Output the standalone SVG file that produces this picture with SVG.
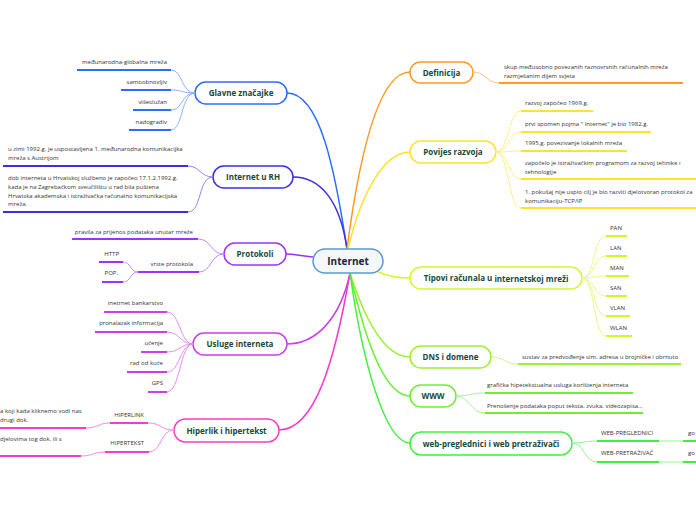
<svg xmlns="http://www.w3.org/2000/svg" width="696" height="520" viewBox="0 0 696 520">
<style>
.bg{fill:#fff}
.n rect{fill:#fff;stroke-width:1.5}
.nt{font-family:"Open Sans",sans-serif;font-weight:bold;font-size:8px;fill:#17493a;text-anchor:middle}
.lt{font-family:"Open Sans",sans-serif;font-size:6px;fill:#333}
.r{text-anchor:end}
.ul{stroke-width:2;fill:none}
.c{fill:none;stroke-width:1.5}
.lc{fill:none;stroke-width:1}
</style>
<rect class="bg" x="0" y="0" width="696" height="520"/>
<g id="connectors">
<path class="c" stroke="#2d6bff" d="M347,249 C335,170 320,93 287,93"/>
<path class="c" stroke="#3a2ee6" d="M347,249 C340,200 320,177 293,177"/>
<path class="c" stroke="#9a33ff" d="M313,257 C300,256 295,254 286,254"/>
<path class="c" stroke="#cc3cf0" d="M350,273 C340,320 315,344 287,344"/>
<path class="c" stroke="#f53cc8" d="M350,273 C335,360 315,430 279,430"/>
<path class="c" stroke="#ff9a22" d="M347,249 C360,150 380,72 410,72"/>
<path class="c" stroke="#ffe22e" d="M348,249 C362,190 385,152 410,152"/>
<path class="c" stroke="#d8f52c" d="M378,272 C390,277 400,278 410,278"/>
<path class="c" stroke="#9ef032" d="M350,273 C365,320 385,357 410,357"/>
<path class="c" stroke="#6eee32" d="M350,273 C365,340 385,396 410,396"/>
<path class="c" stroke="#3ef03e" d="M350,273 C362,360 385,443 410,443"/>
</g>
<g id="internet" class="n">
<rect x="313" y="249" width="70" height="24" rx="12" style="fill:#f4f8fb;stroke:#5a9ad0"/>
<text x="348" y="265" class="nt" style="font-size:10px;fill:#1a2440">Internet</text>
</g>
<g id="glavne" class="n">
<rect x="195" y="82" width="92" height="22" rx="11" stroke="#2d6bff"/>
<text x="241" y="96" class="nt">Glavne značajke</text>
<path class="lc" stroke="#8fb0ff" d="M171,70 C183,70 181,93 195,93 M171,90 C183,90 181,93 195,93 M171,110 C183,110 181,93 195,93 M171,130 C183,130 181,93 195,93"/>
<path class="ul" stroke="#2d6bff" d="M77,70 H171 M121,90 H171 M133,110 H171 M129,130 H171"/>
<text class="lt r" x="167" y="64">međunarodna-globalna mreža</text>
<text class="lt r" x="167" y="84">samoobnovljiv</text>
<text class="lt r" x="167" y="104">višeslužan</text>
<text class="lt r" x="167" y="124">nadogradiv</text>
</g>
<g id="rh" class="n">
<rect x="213" y="166" width="80" height="22" rx="11" stroke="#3a2ee6"/>
<text x="253" y="180" class="nt">Internet u RH</text>
<path class="lc" stroke="#8d86f0" d="M188,166 C200,166 200,177 213,177 M188,212 C202,212 198,177 213,177"/>
<path class="ul" stroke="#3a2ee6" d="M3,166 H188 M3,212 H188"/>
<text class="lt" x="8" y="151">u zimi 1992.g. je uspostavljena 1. međunarodna komunikacijka</text>
<text class="lt" x="8" y="160">mreža s Austrijom</text>
<text class="lt" x="8" y="180">dob interneta u Hrvatskoj službeno je započeo 17.1.2.1992.g.</text>
<text class="lt" x="8" y="189">kada je na Zagrebačkom sveučilištu u rad bila puštena</text>
<text class="lt" x="8" y="198">Hrvatska akademska i istraživačka računalno komunikacijska</text>
<text class="lt" x="8" y="206">mreža.</text>
</g>
<g id="protokoli" class="n">
<rect x="224" y="243" width="62" height="22" rx="11" stroke="#9a33ff"/>
<text x="255" y="257" class="nt">Protokoli</text>
<path class="lc" stroke="#c28cff" d="M198,239 C212,239 210,254 224,254 M199,272 C212,272 210,254 224,254 M123,262 C131,262 130,272 138,272 M123,282 C131,282 130,272 138,272"/>
<path class="ul" stroke="#9a33ff" d="M72,239 H198 M138,272 H199 M99,262 H123 M102,282 H123"/>
<text class="lt r" x="193" y="234">pravila za prijenos podataka unutar mreže</text>
<text class="lt r" x="193" y="266">vrste protokola</text>
<text class="lt r" x="119" y="256">HTTP</text>
<text class="lt r" x="118" y="275">POP,</text>
</g>
<g id="usluge" class="n">
<rect x="193" y="333" width="94" height="22" rx="11" stroke="#cc3cf0"/>
<text x="240" y="347" class="nt">Usluge interneta</text>
<path class="lc" stroke="#e58cf7" d="M167,312 C180,312 180,344 193,344 M167,332 C180,332 180,344 193,344 M167,352 C180,352 180,344 193,344 M167,372 C180,372 180,344 193,344 M167,392 C180,392 180,344 193,344"/>
<path class="ul" stroke="#cc3cf0" d="M104,312 H167 M95,332 H167 M141,352 H167 M127,372 H167 M148,392 H167"/>
<text class="lt r" x="163" y="305">inetrnet bankarstvo</text>
<text class="lt r" x="163" y="325">pronalazak informacija</text>
<text class="lt r" x="163" y="345">učenje</text>
<text class="lt r" x="163" y="365">rad od kuće</text>
<text class="lt r" x="163" y="385">GPS</text>
</g>
<g id="hiperlik" class="n">
<rect x="174" y="419" width="105" height="23" rx="11.5" stroke="#f53cc8"/>
<text x="226.5" y="434" class="nt">Hiperlik i hipertekst</text>
<path class="lc" stroke="#f78de0" d="M148,423 C162,423 160,430 174,430 M149,452 C162,452 160,430 174,430 M110,423 C98,423 98,428 86,428 M105,452 C93,452 93,456 81,456"/>
<path class="ul" stroke="#f53cc8" d="M110,423 H148 M105,452 H149 M0,428 H86 M0,456 H81"/>
<text class="lt r" x="144" y="417">HIPERLINK</text>
<text class="lt r" x="144" y="445">HIPERTEKST</text>
<text class="lt" x="0" y="413">a koji kada kliknemo vodi nas</text>
<text class="lt" x="0" y="422">drugi dok.</text>
<text class="lt" x="0" y="441">djelovima tog dok. ili s</text>
</g>
<g id="definicija" class="n">
<rect x="410" y="62" width="63" height="21" rx="10.5" stroke="#ff9a22"/>
<text x="441.5" y="76" class="nt">Definicija</text>
<path class="lc" stroke="#ffc070" d="M473,72 C486,72 486,83 499,83"/>
<path class="ul" stroke="#ff9a22" d="M499,83 H683"/>
<text class="lt" x="504" y="69">skup međusobno povezanih raznovrsnih računalnih mreža</text>
<text class="lt" x="504" y="78">razmješanim dijem svjeta</text>
</g>
<g id="povijes" class="n">
<rect x="410" y="141" width="86" height="22" rx="11" stroke="#ffe22e"/>
<text x="453" y="155" class="nt">Povijes razvoja</text>
<path class="lc" stroke="#ffee88" d="M496,152 C509,152 508,111 521,111 M496,152 C509,152 508,132 521,132 M496,152 C509,152 508,151 521,151 M496,152 C509,152 508,179 521,179 M496,152 C509,152 508,208 521,208"/>
<path class="ul" stroke="#ffe22e" d="M521,111 H593 M521,132 H651 M521,151 H627 M521,179 H696 M521,208 H696"/>
<text class="lt" x="525" y="105">razvoj započeo 1969.g.</text>
<text class="lt" x="525" y="126">prvi spomen pojma " Internet" je bio 1982.g.</text>
<text class="lt" x="525" y="145">1995.g. povezivanje lokalnih mreža</text>
<text class="lt" x="525" y="165">započelo je istraživačkim programom za razvoj tehnike i</text>
<text class="lt" x="525" y="174">tehnologije</text>
<text class="lt" x="525" y="194">1. pokušaj nije uspio cilj je bio razviti djelotvoran protokol za</text>
<text class="lt" x="525" y="203">komunikaciju-TCP/IP</text>
</g>
<g id="tipovi" class="n">
<rect x="410" y="267" width="172" height="22" rx="11" stroke="#d8f52c"/>
<text x="496" y="281" class="nt">Tipovi računala u <tspan dy="1">internetskoj mreži</tspan></text>
<path class="lc" stroke="#e8fa88" d="M582,278 C595,278 593,236 606,236 M582,278 C595,278 593,256 606,256 M582,278 C595,278 593,276 606,276 M582,278 C595,278 593,296 606,296 M582,278 C595,278 593,316 606,316 M582,278 C595,278 593,336 606,336"/>
<path class="ul" stroke="#d8f52c" d="M606,236 H627 M606,256 H627 M606,276 H629 M606,296 H627 M606,316 H630 M606,336 H632"/>
<text class="lt" x="610" y="230">PAN</text>
<text class="lt" x="610" y="250">LAN</text>
<text class="lt" x="610" y="270">MAN</text>
<text class="lt" x="610" y="290">SAN</text>
<text class="lt" x="610" y="310">VLAN</text>
<text class="lt" x="610" y="330">WLAN</text>
</g>
<g id="dns" class="n">
<rect x="410" y="346" width="81" height="22" rx="11" stroke="#9ef032"/>
<text x="450.5" y="360" class="nt">DNS i domene</text>
<path class="lc" stroke="#c8f788" d="M491,357 C505,357 504,364 518,364"/>
<path class="ul" stroke="#9ef032" d="M518,364 H681"/>
<text class="lt" x="522" y="359">sustav za predvođenje sim. adresa u brojničke i obrnuto</text>
</g>
<g id="www" class="n">
<rect x="410" y="385" width="46" height="22" rx="11" stroke="#6eee32"/>
<text x="433" y="399" class="nt">WWW</text>
<path class="lc" stroke="#a8f590" d="M456,396 C470,396 470,393 485,393 M456,396 C470,396 470,413 485,413"/>
<path class="ul" stroke="#6eee32" d="M485,393 H633 M485,413 H643"/>
<text class="lt" x="487" y="387">grafička hipetekstualna usluga korištenja interneta</text>
<text class="lt" x="487" y="408">Prenošenje podataka poput teksta, zvuka, videozapisa...</text>
</g>
<g id="web" class="n">
<rect x="410" y="432" width="162" height="23" rx="11.5" stroke="#3ef03e"/>
<text x="491" y="447" class="nt">web-preglednici i web pretraživači</text>
<path class="lc" stroke="#8ef58e" d="M572,443 C585,443 584,441 597,441 M572,443 C585,443 584,462 597,462 M659,441 H683 M659,462 H683"/>
<path class="ul" stroke="#3ef03e" d="M597,441 H659 M597,462 H659 M683,441 H696 M683,462 H696"/>
<text class="lt" x="601" y="435">WEB-PREGLEDNICI</text>
<text class="lt" x="601" y="455">WEB-PRETRAŽIVAČ</text>
<text class="lt" x="688" y="435">go</text>
<text class="lt" x="688" y="455">go</text>
</g>
</svg>
